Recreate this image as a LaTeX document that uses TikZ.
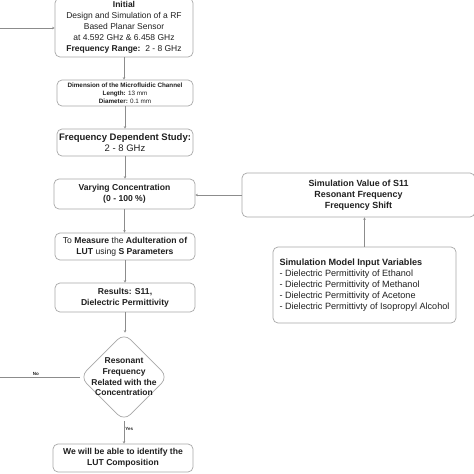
\documentclass[tikz,border=0pt]{standalone}
\usepackage{fontspec}
\setmainfont{Liberation Sans}
\usetikzlibrary{arrows.meta,shapes.geometric}
\definecolor{boxgray}{HTML}{A8A8A8}
\definecolor{linegray}{HTML}{8C8C8C}
\definecolor{txt}{HTML}{202020}
\begin{document}
\begin{tikzpicture}[x=1pt,y=-1pt,
  box/.style={draw=boxgray,line width=0.7pt,rounded corners=5pt,align=center,inner sep=1pt,fill=white,text=txt},
  conn/.style={draw=linegray,line width=0.6pt,-{Stealth[length=2.5pt,width=2.5pt]}},
  plain/.style={draw=linegray,line width=0.6pt},
  lbl/.style={font=\fontsize{4.5}{5}\selectfont\bfseries,text=txt,inner sep=1pt}]
\useasboundingbox (0,0) rectangle (474,474);
\fill[white] (0,0) rectangle (474,474);

\node[box,minimum width=138pt,minimum height=59pt,font=\fontsize{8.5}{11}\selectfont] (b1) at (124,27.5)
  {\textbf{Initial}\\Design and Simulation of a RF\\Based Planar Sensor\\at 4.592 GHz \& 6.458 GHz\\\textbf{Frequency Range:}\ \ 2 - 8 GHz};
\node[box,minimum width=136pt,minimum height=26pt,font=\fontsize{6.3}{8}\selectfont] (b2) at (125,93)
  {\textbf{Dimension of the Microfluidic Channel}\\\textbf{Length:} 13 mm\\\textbf{Diameter:} 0.1 mm};
\node[box,minimum width=136pt,minimum height=27pt,font=\fontsize{9.5}{11.5}\selectfont] (b3) at (125,142.5)
  {\textbf{Frequency Dependent Study:}\\2 - 8 GHz};
\node[box,minimum width=141pt,minimum height=30pt,font=\fontsize{8.6}{11}\selectfont\bfseries] (b4) at (124.5,194)
  {Varying Concentration\\(0 - 100 \%)};
\node[box,minimum width=140pt,minimum height=27pt,font=\fontsize{8.6}{11}\selectfont] (b5) at (125,246.5)
  {To \textbf{Measure} the \textbf{Adulteration of}\\\textbf{LUT} using \textbf{S Parameters}};
\node[box,minimum width=140pt,minimum height=29pt,font=\fontsize{8.6}{11}\selectfont\bfseries] (b6) at (125,297.5)
  {Results: S11,\\Dielectric Permittivity};
\node[draw=boxgray,line width=0.7pt,shape=diamond,rounded corners=9pt,minimum width=88pt,minimum height=88pt,inner sep=0pt,fill=white,
  label={[font=\fontsize{8.5}{10.7}\selectfont\bfseries,align=center,text=txt]center:Resonant\\Frequency\\Related with the\\Concentration}] (d) at (124,377) {};
\node[box,minimum width=140pt,minimum height=28pt,font=\fontsize{8.6}{11}\selectfont\bfseries] (b7) at (123,458)
  {We will be able to identify the\\LUT Composition};
\node[box,minimum width=233pt,minimum height=44pt,font=\fontsize{8.9}{11}\selectfont\bfseries] (b8) at (358.5,195)
  {Simulation Value of S11\\Resonant Frequency\\Frequency Shift};
\node[box,minimum width=183pt,minimum height=76pt,align=left,font=\fontsize{9.1}{11}\selectfont] (b9) at (364.5,285)
  {\textbf{Simulation Model Input Variables}\\- Dielectric Permittivity of Ethanol\\- Dielectric Permittivity of Methanol\\- Dielectric Permittivity of Acetone\\- Dielectric Permittivty of Isopropyl Alcohol};

\coordinate (inL) at (0,28);
\coordinate (noL) at (0,377);

\draw[conn] (inL) -- (inL -| b1.west);
\draw[conn] (b1.south) -- (b1.south |- b2.north);
\draw[conn] (b2.south) -- (b2.south |- b3.north);
\draw[conn] (b3.south) -- (b3.south |- b4.north);
\draw[conn] (b4.south) -- (b4.south |- b5.north);
\draw[conn] (b5.south) -- (b5.south |- b6.north);
\draw[conn] (b6.south) -- (b6.south |- d.north);
\draw[conn] (d.south) -- node[lbl,right,pos=0.35] {Yes} (d.south |- b7.north);
\draw[plain] (d.west) -- node[lbl,above,pos=0.55] {No} (noL);
\draw[conn] (b8.west) -- (b8.west -| b4.east);
\draw[conn] (b9.north) -- (b9.north |- b8.south);
\end{tikzpicture}
\end{document}
